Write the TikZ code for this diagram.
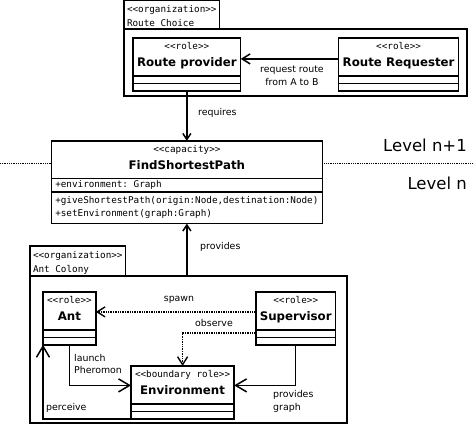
\documentclass[tikz,border=0pt]{standalone}
\usepackage{fontspec}
\setmainfont{DejaVu Sans}
\setmonofont{DejaVu Sans Mono}
\usetikzlibrary{shapes.multipart,arrows.meta,positioning}

\newcommand{\stereofont}{\fontsize{9.3}{13}\ttfamily}
\newcommand{\clsfont}{\fontsize{11.8}{14}\rmfamily\bfseries}
\newcommand{\lblfont}{\fontsize{9.4}{12.5}\selectfont}
\newcommand{\lvlfont}{\fontsize{16.5}{18}\selectfont}
% stereotype line and class name line of a head compartment
\newcommand{\head}[2]{\rule{0pt}{9.8pt}#1\\[4pt]{\clsfont #2}\rule[-7.5pt]{0pt}{7.5pt}}
% two empty compartments for roles
\newcommand{\noparts}{\nodepart{two}\rule{0pt}{4pt}\nodepart{three}\rule{0pt}{4pt}}

\begin{document}
\begin{tikzpicture}[%
    x=1pt, y=-1pt,              % pixel grid of the reference, y going down
    >={Straight Barb[length=8pt,width=10pt]},
    node distance=50pt and 98pt,
    ]
% -------------------------------------------------
% Box and line styles
\tikzset{
  base/.style={draw, line width=1.5pt, outer sep=0pt},
  cls/.style={base, fill=white, rectangle split, rectangle split parts=3,
    inner xsep=4pt, inner ysep=1pt, align=center, font=\stereofont},
  org/.style={base, anchor=north west, inner sep=0pt},
  tab/.style={base, anchor=south west, align=left, font=\stereofont,
    inner xsep=3pt, inner ysep=2pt, minimum height=29pt},
  lbl/.style={font=\lblfont, align=left, inner sep=0pt},
  lvl/.style={font=\lvlfont, inner sep=0pt, anchor=east},
  link/.style={->, line width=1.5pt},
  small/.style={-{Straight Barb[length=6pt,width=8pt]}},
  big/.style={-{Straight Barb[length=11pt,width=13pt]}},
  dep/.style={->, line width=1.4pt, densely dotted},
  level/.style={densely dotted, line width=0.8pt}
}
\useasboundingbox (0,0) rectangle (474,443);
% -------------------------------------------------
% Organizations
\node [org, minimum width=343pt, minimum height=67pt] (rc) at (124,29) {};
\node [tab] (rcTab) at (rc.north west) {\rule{0pt}{10pt}<<organization>>\\[1pt]Route Choice};
\node [org, minimum width=317pt, minimum height=147pt] (ac) at (30,276) {};
\node [tab] (acTab) at (ac.north west) {\rule{0pt}{10pt}<<organization>>\\[1pt]Ant Colony};

% Roles and capacity
\node [cls, anchor=north west] (rp) at (133,38) {\head{<<role>>}{Route provider}\noparts};
\node [cls, right = of rp] (rq) {\head{<<role>>}{Route Requester}\noparts};
\node [cls, below = of rp, rectangle split part align={center,left,left}] (fsp)
  {\head{<<capacity>>}{FindShortestPath}
   \nodepart{two}\rule[-3pt]{0pt}{10pt}+environment: Graph
   \nodepart{three}\begin{tabular}{@{}l@{}}
     \rule{0pt}{10pt}+giveShortestPath(origin:Node,destination:Node)\\
     +setEnvironment(graph:Graph)\rule[-5pt]{0pt}{5pt}
   \end{tabular}};
\node [cls, anchor=north west] (ant) at (43,292) {\head{<<role>>}{Ant}\noparts};
\node [cls, right = 160pt of ant] (sup) {\head{<<role>>}{Supervisor}\noparts};
\node [cls, anchor=north west] (env) at (131,366) {\head{<<boundary role>>}{Environment}\noparts};

% Levels
\node [lvl] (lvlUp) at (467,145) {Level n+1};
\node [lvl] (lvlDown) at (467,183) {Level n};
\coordinate (sepL) at (0,163);
\coordinate (sepR) at (474,163);
\draw[level] (sepL) -- (sepL -| fsp.west);
\draw[level] (sepR -| fsp.east) -- (sepR);

% Connectors
\draw[link] ([yshift=5.5pt]rq.west) -- ([yshift=5.5pt]rp.east);	%request route
\draw[link, small] (rp) -- (fsp);	%requires
\draw[link, small] (ac.north -| fsp) -- (fsp);	%provides
\draw[dep] ([yshift=6.5pt]sup.west) -- ([yshift=6.5pt]ant.east);	%spawn
\draw[dep] ([yshift=-14.5pt]sup.west) -| (env.north);	%observe
\draw[link, big] (ant.south) |- ([yshift=7pt]env.west);	%launch Pheromon
\draw[link, big] (sup.south) |- ([yshift=7pt]env.east);	%provides graph
\draw[link, big] (env.south west) -| (ant.south west);	%perceive

% Labels
\node [lbl, align=center] (lRequest) at (292,76) {request route\\from A to B};
\node [lbl, anchor=west] (lRequires) at (198,113) {requires};
\node [lbl, anchor=west] (lProvides) at (200,247) {provides};
\node [lbl] (lSpawn) at (179,300) {spawn};
\node [lbl] (lObserve) at (214,323) {observe};
\node [lbl, anchor=west] (lLaunch) at (74,364) {launch\\Pheromon};
\node [lbl, anchor=west] (lGraph) at (273,401.5) {provides\\graph};
\node [lbl, anchor=west] (lPerceive) at (46,408) {perceive};
% -------------------------------------------------
\end{tikzpicture}
\end{document}
